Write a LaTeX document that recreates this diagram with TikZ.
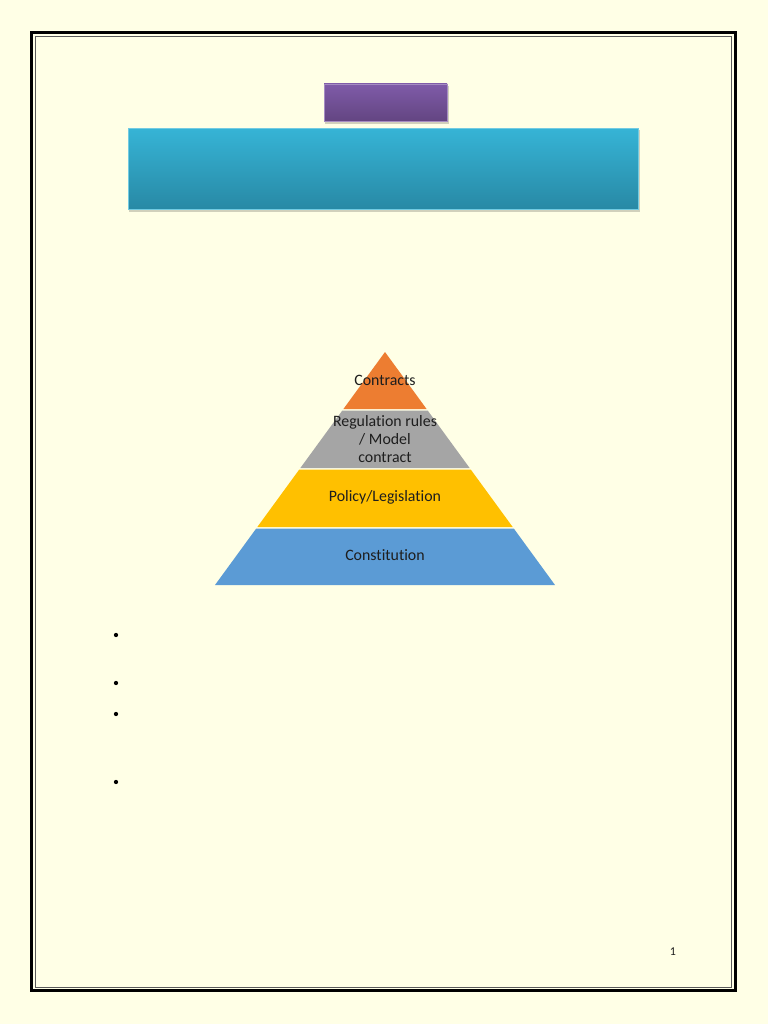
\documentclass[tikz,border=0pt]{standalone}
\usepackage{fontspec}
\setmainfont[Ligatures=NoCommon]{Carlito}
\usetikzlibrary{positioning}

\definecolor{pagebg}{RGB}{255,255,230}
\definecolor{purpletop}{RGB}{127,91,168}
\definecolor{purplebot}{RGB}{99,69,130}
\definecolor{bluetop}{RGB}{54,180,214}
\definecolor{bluebot}{RGB}{40,137,165}
\definecolor{tierorange}{RGB}{237,125,49}
\definecolor{tiergray}{RGB}{165,165,165}
\definecolor{tieryellow}{RGB}{255,192,0}
\definecolor{tierblue}{RGB}{91,155,213}
\definecolor{inktext}{RGB}{30,30,30}

\tikzset{
  tierlabel/.style={align=center, text=inktext, font=\fontsize{11.9}{13.5}\selectfont, inner sep=0pt},
  bulletdot/.style={circle, fill=black, inner sep=0pt, minimum size=3.2pt},
  boxshadow/.style={fill=black, opacity=0.18},
}

\begin{document}
\begin{tikzpicture}[x=0.75pt,y=-0.75pt]
   % Sizes
   \pgfmathsetmacro{\apexx}{385}
   \pgfmathsetmacro{\apexy}{352}
   \pgfmathsetmacro{\slope}{170/233}

   \useasboundingbox (0,0) rectangle (768,1024);
   \fill[pagebg] (0,0) rectangle (768,1024);

   % page border
   \draw[line width=2.3pt, black] (31.5,32.5) rectangle (735.5,990.5);
   \draw[line width=0.8pt, black!65] (35.5,36.5) rectangle (731.5,987.5);

   % title boxes
   \fill[boxshadow] (325,86) rectangle (449,124);
   \shade[top color=purpletop, bottom color=purplebot, draw=purpletop!70!white, line width=0.4pt]
     (324,84) rectangle (447,121);
   \fill[boxshadow] (129,130) rectangle (640,212);
   \shade[top color=bluetop, bottom color=bluebot, draw=bluetop!70!white, line width=0.4pt]
     (128,128) rectangle (638,209);

   % pyramid tiers
   \foreach \ytop/\ybot/\col in {352/409/tierorange, 410.5/468/tiergray,
                                 469.5/527/tieryellow, 528.5/585/tierblue} {
     \fill[\col] ({\apexx-(\ytop-\apexy)*\slope},\ytop) -- ({\apexx+(\ytop-\apexy)*\slope},\ytop)
       -- ({\apexx+(\ybot-\apexy)*\slope},\ybot) -- ({\apexx-(\ybot-\apexy)*\slope},\ybot) -- cycle;
   }

   % labels
   \node[tierlabel] (contracts) at (385,380) {Contracts};
   \node[tierlabel] (regulation) at (385,439) {Regulation rules\\/ Model\\contract};
   \node[tierlabel] (policy) at (385,497) {Policy/Legislation};
   \node[tierlabel] (constitution) at (385,555) {Constitution};

   % bullets
   \node[bulletdot] (dotone) at (116,635) {};
   \node[bulletdot] (dottwo) at (116,683) {};
   \node[bulletdot] (dotthree) at (116,714) {};
   \node[bulletdot] (dotfour) at (116,782) {};

   \node[tierlabel, font=\fontsize{9}{11}\selectfont] (pagenum) at (673,952) {1};
\end{tikzpicture}
\end{document}
